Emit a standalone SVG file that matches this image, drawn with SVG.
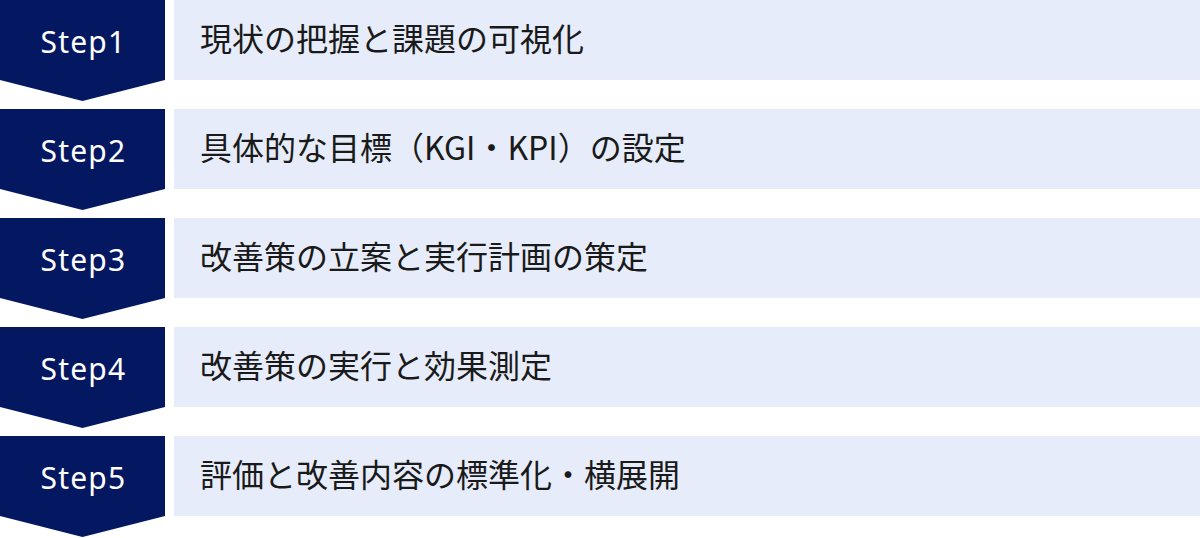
<svg xmlns="http://www.w3.org/2000/svg" width="1200" height="538" viewBox="0 0 1200 538">
<defs>
<style>
.chev{fill:#041862}
.bar{fill:#E6ECF9}
.step{font-family:"Noto Sans","Open Sans",sans-serif;font-size:30px;fill:#ffffff;letter-spacing:1.2px}
.label{font-family:"Noto Sans CJK JP","Noto Sans",sans-serif;font-size:32px;fill:#1a1a1a}
</style>
<polygon id="chevShape" points="0,0 165,0 165,80 82.5,101 0,80"/>
</defs>
<rect width="1200" height="538" fill="#ffffff"/>
<g id="connectors"></g>
<g id="step1" transform="translate(0,0)">
<use href="#chevShape" class="chev"/>
<rect class="bar" x="174" y="0" width="1026" height="80"/>
<text class="step" x="40.5" y="52.5">Step1</text>
<text class="label" x="200" y="51">現状の把握と課題の可視化</text>
</g>
<g id="step2" transform="translate(0,109)">
<use href="#chevShape" class="chev"/>
<rect class="bar" x="174" y="0" width="1026" height="80"/>
<text class="step" x="40.5" y="52.5">Step2</text>
<text class="label" x="200" y="51">具体的な目標（KGI・KPI）の設定</text>
</g>
<g id="step3" transform="translate(0,218)">
<use href="#chevShape" class="chev"/>
<rect class="bar" x="174" y="0" width="1026" height="80"/>
<text class="step" x="40.5" y="52.5">Step3</text>
<text class="label" x="200" y="51">改善策の立案と実行計画の策定</text>
</g>
<g id="step4" transform="translate(0,327)">
<use href="#chevShape" class="chev"/>
<rect class="bar" x="174" y="0" width="1026" height="80"/>
<text class="step" x="40.5" y="52.5">Step4</text>
<text class="label" x="200" y="51">改善策の実行と効果測定</text>
</g>
<g id="step5" transform="translate(0,436)">
<use href="#chevShape" class="chev"/>
<rect class="bar" x="174" y="0" width="1026" height="80"/>
<text class="step" x="40.5" y="52.5">Step5</text>
<text class="label" x="200" y="51">評価と改善内容の標準化・横展開</text>
</g>
</svg>
